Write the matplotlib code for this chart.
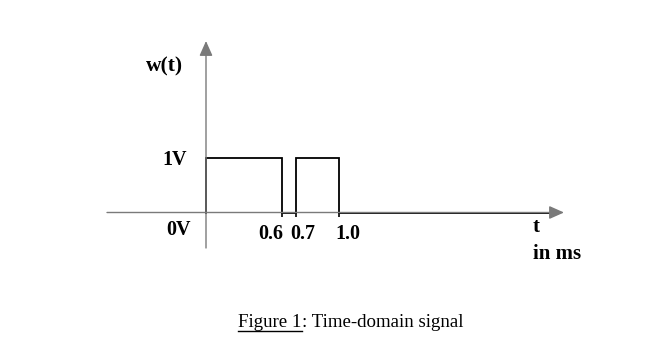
import numpy as np
import matplotlib
matplotlib.use("Agg")
import matplotlib.pyplot as plt

# ---- data ----
pulse_starts = [0.0, 0.7]
pulse_ends = [0.6, 1.0]
amplitude = 1.0
tick_values = [0.6, 0.7, 1.0]
tick_labels = ["0.6", "0.7", "1.0"]
level_values = [0.0, 1.0]
level_labels = ["0V", "1V"]
y_label = "w(t)"
x_label_1 = "t"
x_label_2 = "in ms"
caption_fig = "Figure 1"
caption_text = ": Time-domain signal"

W, H = 665, 337
FONT = ["Liberation Serif", "DejaVu Serif"]

# the sketch is not drawn to scale: piecewise-linear time axis (t -> pixel)
knot_t = np.array([-3.0, 0.0, 0.6, 0.7, 1.0, 5.0])
knot_px = np.array([206 - 3 * 133.3, 206, 282.3, 295.7, 339.3, 339.3 + 4 * 133.3])


def fwd(t):
    return np.interp(t, knot_t, knot_px)


def inv(p):
    return np.interp(p, knot_px, knot_t)


Y0_PX = 212.5      # pixel row of 0 V (from top)
PX_PER_V = 54.8


def vy(py):
    return (Y0_PX - py) / PX_PER_V


fig = plt.figure(figsize=(W / 100, H / 100), dpi=100)
fig.patch.set_facecolor("white")
ax = fig.add_axes([0, 0, 1, 1])
ax.set_xscale("function", functions=(fwd, inv))
ax.set_xlim(inv(0), inv(W))
ax.set_ylim(vy(H), vy(0))
ax.axis("off")

axis_col = "#7a7a7a"
arrow_kw = dict(arrowstyle="-|>,head_length=0.9,head_width=0.4", color=axis_col,
                lw=1.0, shrinkA=0, shrinkB=0)
# horizontal axis
ax.annotate("", xy=(inv(564), 0), xytext=(inv(107), 0), arrowprops=arrow_kw)
# vertical axis
ax.annotate("", xy=(0, vy(41)), xytext=(0, vy(248)), arrowprops=arrow_kw)

# signal
ts, ys = [], []
for s, e in zip(pulse_starts, pulse_ends):
    ts += [s, s, e, e]
    ys += [0, amplitude, amplitude, 0]
ts.append(inv(556))
ys.append(0)
ax.plot(ts, ys, color="black", lw=1.3, solid_joinstyle="miter")

# small ticks below axis
ax.vlines(tick_values, vy(217), 0, color="black", lw=1.2)

FS = 14.5
# tick labels
tick_px = [270.7, 303.0, 348.0]
for lab, px in zip(tick_labels, tick_px):
    ax.text(inv(px), vy(234), lab, ha="center", va="center",
            fontsize=FS, fontweight="bold", family=FONT)

# level labels
for lab, v, px in zip(level_labels, level_values, [178, 175]):
    off = 17.5 if v == 0 else 2.5
    ax.text(inv(px), v - off / PX_PER_V, lab, ha="center", va="center",
            fontsize=FS, fontweight="bold", family=FONT)

ax.text(inv(165), vy(66), y_label, ha="center", va="center",
        fontsize=15.5, fontweight="bold", family=FONT)
ax.text(inv(533), vy(227), x_label_1, ha="left", va="center",
        fontsize=15, fontweight="bold", family=FONT)
ax.text(inv(533), vy(254), x_label_2, ha="left", va="center",
        fontsize=15, fontweight="bold", family=FONT)

# caption with underlined "Figure 1"
cap_x = 238 / W
cap_y = (H - 326.7) / H
t1 = fig.text(cap_x, cap_y, caption_fig, ha="left", va="baseline",
              fontsize=13.6, family=FONT)
fig.canvas.draw()
bb = t1.get_window_extent()
fig.text(bb.x1 / W, cap_y, caption_text, ha="left", va="baseline",
         fontsize=13.6, family=FONT)
uy = (H - 330.5) / H
fig.add_artist(plt.Line2D([bb.x0 / W, bb.x1 / W], [uy, uy], color="black",
                          lw=1.0, transform=fig.transFigure))

fig.savefig("out.png", dpi=100)
